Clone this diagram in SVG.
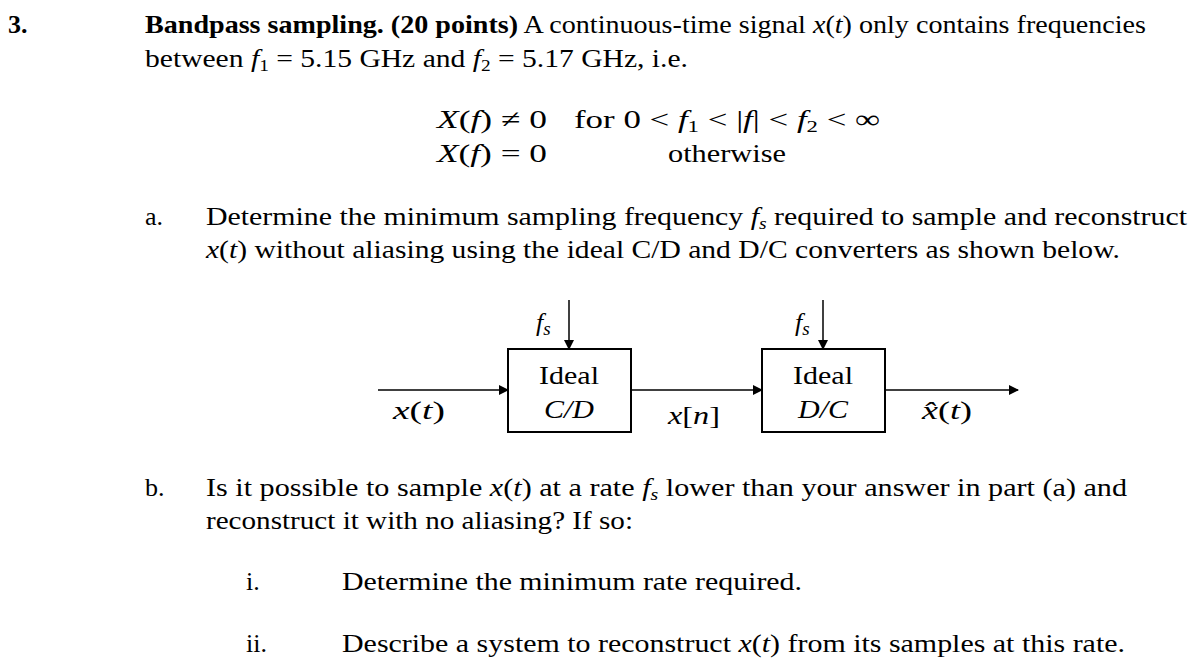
<svg xmlns="http://www.w3.org/2000/svg" width="1197" height="669" viewBox="0 0 1197 669">
<style>
text{font-family:"Liberation Serif","DejaVu Serif",serif;font-size:26px;fill:#000}
.m{font-style:italic}
.b{font-weight:bold}
.box{fill:#fff;stroke:#000;stroke-width:2}
.ln{stroke:#000;stroke-width:1.5;fill:none}
</style>
<defs><marker id="ah" markerWidth="10" markerHeight="10" refX="9" refY="5" orient="auto" markerUnits="userSpaceOnUse"><path d="M0,0 L10,5 L0,10 z" fill="#000"/></marker></defs>
<rect width="1197" height="669" fill="#fff"/>
<text x="8" y="33" class="b">3.</text>
<text x="145" y="33" textLength="1001" lengthAdjust="spacingAndGlyphs"><tspan class="b">Bandpass sampling. (20 points)</tspan> A continuous-time signal <tspan class="m">x</tspan>(<tspan class="m">t</tspan>) only contains frequencies</text>
<text x="145" y="67" textLength="543" lengthAdjust="spacingAndGlyphs">between <tspan class="m">f</tspan><tspan font-size="17" dy="4">1</tspan><tspan dy="-4"> = 5.15 GHz and </tspan><tspan class="m">f</tspan><tspan font-size="17" dy="4">2</tspan><tspan dy="-4"> = 5.17 GHz, i.e.</tspan></text>
<text x="437" y="128" textLength="110" lengthAdjust="spacingAndGlyphs"><tspan class="m">X</tspan>(<tspan class="m">f</tspan>) ≠ 0</text>
<text x="574" y="128" textLength="306" lengthAdjust="spacingAndGlyphs">for 0 &lt; <tspan class="m">f</tspan><tspan font-size="17" dy="4">1</tspan><tspan dy="-4"> &lt; |</tspan><tspan class="m">f</tspan>| &lt; <tspan class="m">f</tspan><tspan font-size="17" dy="4">2</tspan><tspan dy="-4"> &lt; ∞</tspan></text>
<text x="437" y="162" textLength="110" lengthAdjust="spacingAndGlyphs"><tspan class="m">X</tspan>(<tspan class="m">f</tspan>) = 0</text>
<text x="668" y="162" textLength="118" lengthAdjust="spacingAndGlyphs">otherwise</text>
<text x="145" y="225">a.</text>
<text x="206" y="225" textLength="981" lengthAdjust="spacingAndGlyphs">Determine the minimum sampling frequency <tspan class="m">f</tspan><tspan class="m" font-size="17" dy="4">s</tspan><tspan dy="-4"> required to sample and reconstruct</tspan></text>
<text x="206" y="258" textLength="914" lengthAdjust="spacingAndGlyphs"><tspan class="m">x</tspan>(<tspan class="m">t</tspan>) without aliasing using the ideal C/D and D/C converters as shown below.</text>
<g id="connectors">
<line class="ln" x1="378" y1="390" x2="508" y2="390" marker-end="url(#ah)"/>
<line class="ln" x1="631" y1="390" x2="762" y2="390" marker-end="url(#ah)"/>
<line class="ln" x1="885" y1="390" x2="1018" y2="390" marker-end="url(#ah)"/>
<line class="ln" x1="569" y1="300" x2="569" y2="349" marker-end="url(#ah)"/>
<line class="ln" x1="823" y1="300" x2="823" y2="349" marker-end="url(#ah)"/>
</g>
<g id="cd"><rect class="box" x="508" y="349" width="123" height="83"/>
<text x="569" y="384" text-anchor="middle" textLength="60" lengthAdjust="spacingAndGlyphs">Ideal</text><text x="569" y="418" text-anchor="middle" class="m" textLength="50" lengthAdjust="spacingAndGlyphs">C/D</text></g>
<g id="dc"><rect class="box" x="762" y="349" width="123" height="83"/>
<text x="823" y="384" text-anchor="middle" textLength="60" lengthAdjust="spacingAndGlyphs">Ideal</text><text x="823" y="418" text-anchor="middle" class="m" textLength="50" lengthAdjust="spacingAndGlyphs">D/C</text></g>
<text x="536" y="331" class="m" font-size="30">f<tspan font-size="19" dy="4">s</tspan></text>
<text x="795" y="331" class="m" font-size="30">f<tspan font-size="19" dy="4">s</tspan></text>
<text x="393" y="419" class="m" textLength="52" lengthAdjust="spacingAndGlyphs">x<tspan font-style="normal">(</tspan>t<tspan font-style="normal">)</tspan></text>
<text x="668" y="424" class="m" textLength="52" lengthAdjust="spacingAndGlyphs">x<tspan font-style="normal">[</tspan>n<tspan font-style="normal">]</tspan></text>
<text x="922" y="419" class="m" textLength="50" lengthAdjust="spacingAndGlyphs">x̂<tspan font-style="normal">(</tspan>t<tspan font-style="normal">)</tspan></text>
<text x="145" y="496">b.</text>
<text x="206" y="496" textLength="921" lengthAdjust="spacingAndGlyphs">Is it possible to sample <tspan class="m">x</tspan>(<tspan class="m">t</tspan>) at a rate <tspan class="m">f</tspan><tspan class="m" font-size="17" dy="4">s</tspan><tspan dy="-4"> lower than your answer in part (a) and</tspan></text>
<text x="206" y="529" textLength="427" lengthAdjust="spacingAndGlyphs">reconstruct it with no aliasing? If so:</text>
<text x="246" y="590">i.</text>
<text x="342" y="590" textLength="460" lengthAdjust="spacingAndGlyphs">Determine the minimum rate required.</text>
<text x="246" y="652">ii.</text>
<text x="342" y="652" textLength="783" lengthAdjust="spacingAndGlyphs">Describe a system to reconstruct <tspan class="m">x</tspan>(<tspan class="m">t</tspan>) from its samples at this rate.</text>
</svg>
